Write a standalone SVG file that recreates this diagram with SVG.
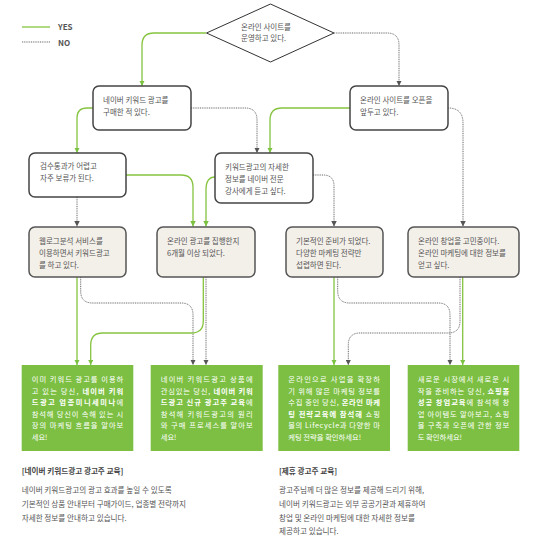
<svg xmlns="http://www.w3.org/2000/svg" width="550" height="539" viewBox="0 0 550 539">
<defs>
<marker id="ay" viewBox="0 0 6 6" refX="6" refY="3" markerWidth="5.5" markerHeight="5.5" markerUnits="userSpaceOnUse" orient="auto"><path d="M0,0 L6,3 L0,6 z" fill="#7cc242"/></marker>
<marker id="an" viewBox="0 0 6 6" refX="6" refY="3" markerWidth="5.5" markerHeight="5.5" markerUnits="userSpaceOnUse" orient="auto"><path d="M0,0 L6,3 L0,6 z" fill="#555"/></marker>
</defs>
<style>
text{font-family:'Noto Sans CJK KR','Noto Sans',sans-serif;}
.t{font-size:7.5px;fill:#555;}
.g{font-size:7.3px;fill:#fff;}
.b{font-weight:bold;}
.box{fill:#fff;stroke:#444;stroke-width:1.5;}
.bx2{fill:#f3efe9;stroke:#555;stroke-width:1.5;}
.gb{fill:#7cbf42;}
.yes{fill:none;stroke:#86c440;stroke-width:1.3;marker-end:url(#ay);}
.no{fill:none;stroke:#666;stroke-width:1;stroke-dasharray:1 0.8;marker-end:url(#an);}
.bt{font-size:7.6px;fill:#555;}
</style>
<rect width="550" height="539" fill="#fff"/>
<g id="legend">
<line x1="22" y1="27" x2="50" y2="27" stroke="#86c440" stroke-width="1.3"/>
<text x="58" y="30" style="font-size:8px;font-weight:bold;fill:#555">YES</text>
<line x1="22" y1="42" x2="50" y2="42" stroke="#666" stroke-width="1" stroke-dasharray="1 0.8"/>
<text x="58" y="45.5" style="font-size:8px;font-weight:bold;fill:#555">NO</text>
</g>
<g id="connectors">
<path class="yes" d="M206,33 H154 Q142,33 142,45 V86"/>
<path class="no" d="M334,33 H387 Q399,33 399,45 V86"/>
<path class="yes" d="M93,108 H87 Q77,108 77,118 V153"/>
<path class="no" d="M191,108 H245 Q257,108 257,120 V153"/>
<path class="yes" d="M350,108 H282 Q270,108 270,120 V153"/>
<path class="no" d="M448,108 Q463,108 463,123 V226.5"/>
<path class="no" d="M77,197 V226.5"/>
<path class="yes" d="M126,175 H181 Q193,175 193,187 V226.5"/>
<path class="yes" d="M215,177 C208,177 206,182 206,190 V226.5"/>
<path class="no" d="M313,175 H323 Q334,175 334,186 V226.5"/>
<path class="yes" d="M77,277 V365"/>
<path class="no" d="M80.7,277 V291 Q80.7,303 92.7,303 H181 Q193,303 193,315 V365"/>
<path class="yes" d="M203.3,277 V321 Q203.3,333 191.3,333 H102.7 Q90.7,333 90.7,345 V365"/>
<path class="no" d="M206,277 V365"/>
<path class="yes" d="M334,277 V365"/>
<path class="no" d="M337.7,277 V291 Q337.7,303 349.7,303 H438 Q450,303 450,315 V365"/>
<path class="yes" d="M462.7,277 V365"/>
<path class="no" d="M460,277 V321 Q460,333 448,333 H360.3 Q348.3,333 348.3,345 V365"/>
</g>
<g id="n-start">
<polygon points="270.5,4 334,33 270.5,62 206.5,33" fill="#fff" stroke="#333" stroke-width="1"/>
<text class="t" x="241" y="29.5">온라인 사이트를</text>
<text class="t" x="241" y="41">운영하고 있다.</text>
</g>
<g id="n-naver">
<rect class="box" x="93" y="86" width="98" height="44" rx="6"/>
<text class="t" x="103" y="103">네이버 키워드 광고를</text>
<text class="t" x="103" y="115">구매한 적 있다.</text>
</g>
<g id="n-open">
<rect class="box" x="350" y="86" width="98" height="44" rx="6"/>
<text class="t" x="360" y="103">온라인 사이트를 오픈을</text>
<text class="t" x="360" y="115">앞두고 있다.</text>
</g>
<g id="n-review">
<rect class="box" x="29" y="153" width="97" height="44" rx="6"/>
<text class="t" x="40" y="168.5">검수통과가 어렵고</text>
<text class="t" x="40" y="181">자주 보류가 된다.</text>
</g>
<g id="n-lecture">
<rect class="box" x="215" y="153" width="98" height="50" rx="6"/>
<text class="t" x="225" y="169.5">키워드광고의 자세한</text>
<text class="t" x="225" y="182">정보를 네이버 전문</text>
<text class="t" x="225" y="194">강사에게 듣고 싶다.</text>
</g>
<g id="n-weblog">
<rect class="bx2" x="29" y="227" width="97" height="50" rx="6"/>
<text class="t" x="39" y="243.5">웹로그분석 서비스를</text>
<text class="t" x="39" y="255.5">이용하면서 키워드광고</text>
<text class="t" x="39" y="268">를 하고 있다.</text>
</g>
<g id="n-sixmonth">
<rect class="bx2" x="157" y="227" width="98" height="50" rx="6"/>
<text class="t" x="167" y="243.5">온라인 광고를 집행한지</text>
<text class="t" x="167" y="255.5">6개월 이상 되었다.</text>
</g>
<g id="n-ready">
<rect class="bx2" x="286" y="227" width="97" height="50" rx="6"/>
<text class="t" x="296" y="243.5">기본적인 준비가 되었다.</text>
<text class="t" x="296" y="255.5">다양한 마케팅 전략만</text>
<text class="t" x="296" y="268">섭렵하면 된다.</text>
</g>
<g id="n-startup">
<rect class="bx2" x="408" y="227" width="111" height="50" rx="6"/>
<text class="t" x="418" y="243.5">온라인 창업을 고민중이다.</text>
<text class="t" x="418" y="255.5">온라인 마케팅에 대한 정보를</text>
<text class="t" x="418" y="268">얻고 싶다.</text>
</g>
<g id="r-seminar">
<rect class="gb" x="21.7" y="365" width="111.6" height="86"/>
<text class="g" x="31.7" y="382" textLength="91.6" lengthAdjust="spacing">이미 키워드 광고를 이용하</text>
<text class="g" x="31.7" y="393.6" textLength="91.6" lengthAdjust="spacing">고 있는 당신, <tspan class="b">네이버 키워</tspan></text>
<text class="g" x="31.7" y="405.2" textLength="91.6" lengthAdjust="spacing"><tspan class="b">드광고 업종미니세미나</tspan>에</text>
<text class="g" x="31.7" y="416.8" textLength="91.6" lengthAdjust="spacing">참석해 당신이 속해 있는 시</text>
<text class="g" x="31.7" y="428.4" textLength="91.6" lengthAdjust="spacing">장의 마케팅 흐름을 알아보</text>
<text class="g" x="31.7" y="440">세요!</text>
</g>
<g id="r-newadv">
<rect class="gb" x="150.7" y="365" width="112" height="86"/>
<text class="g" x="160.7" y="382" textLength="92" lengthAdjust="spacing">네이버 키워드광고 상품에</text>
<text class="g" x="160.7" y="393.6" textLength="92" lengthAdjust="spacing">관심있는 당신, <tspan class="b">네이버 키워</tspan></text>
<text class="g" x="160.7" y="405.2" textLength="92" lengthAdjust="spacing"><tspan class="b">드광고 신규 광고주 교육</tspan>에</text>
<text class="g" x="160.7" y="416.8" textLength="92" lengthAdjust="spacing">참석해 키워드광고의 원리</text>
<text class="g" x="160.7" y="428.4" textLength="92" lengthAdjust="spacing">와 구매 프로세스를 알아보</text>
<text class="g" x="160.7" y="440">세요!</text>
</g>
<g id="r-strategy">
<rect class="gb" x="278.3" y="365" width="111.7" height="86"/>
<text class="g" x="288.3" y="382" textLength="91.7" lengthAdjust="spacing">온라인으로 사업을 확장하</text>
<text class="g" x="288.3" y="393.6" textLength="91.7" lengthAdjust="spacing">기 위해 많은 마케팅 정보를</text>
<text class="g" x="288.3" y="405.2" textLength="91.7" lengthAdjust="spacing">수집 중인 당신, <tspan class="b">온라인 마케</tspan></text>
<text class="g" x="288.3" y="416.8" textLength="91.7" lengthAdjust="spacing"><tspan class="b">팅 전략교육에 참석해</tspan> 쇼핑</text>
<text class="g" x="288.3" y="428.4" textLength="91.7" lengthAdjust="spacing">몰의 Lifecycle과 다양한 마</text>
<text class="g" x="288.3" y="440">케팅 전략을 확인하세요!</text>
</g>
<g id="r-shop">
<rect class="gb" x="407.7" y="365" width="111.6" height="86"/>
<text class="g" x="417.7" y="382" textLength="91.6" lengthAdjust="spacing">새로운 시장에서 새로운 시</text>
<text class="g" x="417.7" y="393.6" textLength="91.6" lengthAdjust="spacing">작을 준비하는 당신, <tspan class="b">쇼핑몰</tspan></text>
<text class="g" x="417.7" y="405.2" textLength="91.6" lengthAdjust="spacing"><tspan class="b">성공 창업교육</tspan>에 참석해 창</text>
<text class="g" x="417.7" y="416.8" textLength="91.6" lengthAdjust="spacing">업 아이템도 알아보고, 쇼핑</text>
<text class="g" x="417.7" y="428.4" textLength="91.6" lengthAdjust="spacing">몰 구축과 오픈에 관한 정보</text>
<text class="g" x="417.7" y="440">도 확인하세요!</text>
</g>
<g id="note-left">
<text class="bt b" x="21.7" y="474" style="fill:#444">[네이버 키워드광고 광고주 교육]</text>
<text class="bt" x="21.7" y="493">네이버 키워드광고의 광고 효과를 높일 수 있도록</text>
<text class="bt" x="21.7" y="507">기본적인 상품 안내부터 구매가이드, 업종별 전략까지</text>
<text class="bt" x="21.7" y="520.5">자세한 정보를 안내하고 있습니다.</text>
</g>
<g id="note-right">
<text class="bt b" x="279" y="474" style="fill:#444">[제휴 광고주 교육]</text>
<text class="bt" x="279" y="493">광고주님께 더 많은 정보를 제공해 드리기 위해,</text>
<text class="bt" x="279" y="507">네이버 키워드광고는 외부 공공기관과 제휴하여</text>
<text class="bt" x="279" y="520.5">창업 및 온라인 마케팅에 대한 자세한 정보를</text>
<text class="bt" x="279" y="534">제공하고 있습니다.</text>
</g>
</svg>
